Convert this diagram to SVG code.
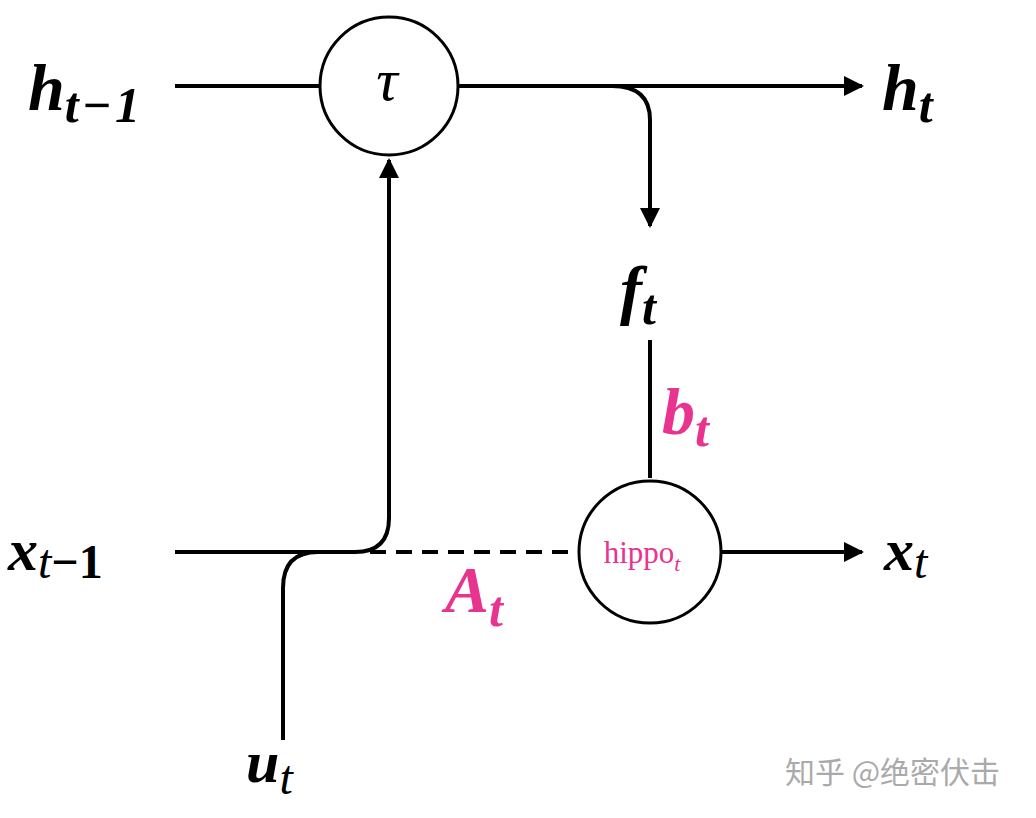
<svg xmlns="http://www.w3.org/2000/svg" width="1036" height="818" viewBox="0 0 1036 818">
<defs>
<marker id="ah" viewBox="0 0 10 10" refX="9" refY="5" markerWidth="5" markerHeight="5" orient="auto"><path d="M0,0 L10,5 L0,10 z" fill="#000"/></marker>
<style>
.ln{stroke:#000;stroke-width:4;fill:none}
.m{font-family:"Liberation Serif",serif;font-style:italic;font-weight:bold;fill:#000}
.p{fill:#e8338f}
</style>
</defs>
<rect width="1036" height="818" fill="#fff"/>
<g id="connectors">
<path class="ln" d="M175,86 H320"/>
<path class="ln" d="M458,86 H862" marker-end="url(#ah)"/>
<path class="ln" d="M612,86 Q650,86 650,120 V226" marker-end="url(#ah)"/>
<path class="ln" d="M650,340 V478"/>
<path class="ln" d="M175,552 H355 Q389,552 389,518 V160" marker-end="url(#ah)"/>
<path class="ln" d="M370,552 H580" stroke-dasharray="16,10"/>
<path class="ln" d="M720,552 H862" marker-end="url(#ah)"/>
<path class="ln" d="M283,740 V588 Q283,552 318,552"/>
</g>
<g id="tau"><circle cx="389" cy="86" r="69" fill="#fff" stroke="#000" stroke-width="3"/><text x="387" y="100" font-size="60" font-family="Liberation Serif,serif" font-style="italic" text-anchor="middle">τ</text></g>
<g id="hippo"><circle cx="650" cy="552" r="71" fill="#fff" stroke="#000" stroke-width="3"/><text x="642" y="563" font-size="31" font-family="Liberation Serif,serif" class="p" text-anchor="middle">hippo<tspan font-size="22" font-style="italic" dy="8">t</tspan></text></g>
<g id="labels">
<text x="28" y="110" font-size="66" class="m">h<tspan font-size="50" dy="12" letter-spacing="3">t−1</tspan></text>
<text x="882" y="110" font-size="66" class="m">h<tspan font-size="50" dy="12">t</tspan></text>
<text x="620" y="312" font-size="66" class="m">f<tspan font-size="50" dy="12">t</tspan></text>
<text x="662" y="434" font-size="66" class="m p">b<tspan font-size="50" dy="12">t</tspan></text>
<text x="445" y="612" font-size="66" class="m p" font-weight="normal">A<tspan font-size="50" dy="14">t</tspan></text>
<text x="8" y="570" font-size="60" class="m">x<tspan font-size="48" dy="8" font-weight="normal">t</tspan><tspan font-size="48" font-style="normal">−1</tspan></text>
<text x="884" y="570" font-size="60" class="m">x<tspan font-size="48" dy="8" font-weight="normal">t</tspan></text>
<text x="246" y="782" font-size="60" class="m">u<tspan font-size="48" dy="12" font-weight="normal">t</tspan></text>
<text x="785" y="783" font-size="30" font-family="Noto Sans CJK SC,sans-serif" fill="#aaa">知乎 @绝密伏击</text>
</g>
</svg>
